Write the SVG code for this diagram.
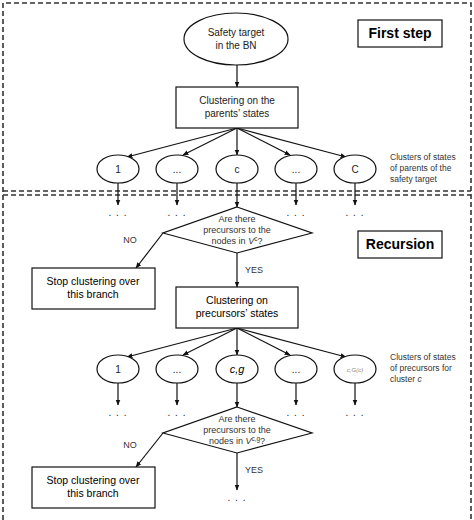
<svg xmlns="http://www.w3.org/2000/svg" width="474" height="520" viewBox="0 0 474 520">
<defs>
<marker id="ah" viewBox="0 0 10 10" refX="9" refY="5" markerWidth="6" markerHeight="6" orient="auto-start-reverse" markerUnits="userSpaceOnUse">
<path d="M0,1 L10,5 L0,9 z" fill="#111"/>
</marker>
<style>
.ln{stroke:#111;stroke-width:1.2;fill:none}
.sh{fill:#fff;stroke:#111;stroke-width:1.2}
.t{font-family:"Liberation Sans",Arial,sans-serif;font-size:10px;fill:#222;text-anchor:middle}
.d{fill:#000}
.b{font-weight:bold}
.s{font-family:"Liberation Sans",Arial,sans-serif;font-size:8.5px;fill:#333}
.q{font-family:"Liberation Sans",Arial,sans-serif;font-size:9px;fill:#333;text-anchor:middle}
.dash{stroke:#333;stroke-width:1.6;stroke-dasharray:5,3;fill:none}
.dots{font-family:"Liberation Sans",Arial,sans-serif;font-size:10px;fill:#222;text-anchor:middle;letter-spacing:1px}
</style>
</defs>
<rect width="474" height="520" fill="#fff"/>
<g id="frame">
<path class="dash" d="M3,520 V3 H471 V520"/>
<line class="dash" x1="3" y1="191" x2="471" y2="191"/>
<line class="dash" x1="3" y1="195" x2="471" y2="195"/>
</g>
<g id="connectors">
<line class="ln" x1="237" y1="65" x2="237" y2="87" marker-end="url(#ah)"/>
<line class="ln" x1="237" y1="128" x2="127" y2="157" marker-end="url(#ah)"/>
<line class="ln" x1="237" y1="128" x2="183" y2="155" marker-end="url(#ah)"/>
<line class="ln" x1="237" y1="128" x2="237" y2="155" marker-end="url(#ah)"/>
<line class="ln" x1="237" y1="128" x2="290" y2="155" marker-end="url(#ah)"/>
<line class="ln" x1="237" y1="128" x2="346" y2="157" marker-end="url(#ah)"/>
<line class="ln" x1="118" y1="183" x2="118" y2="205" marker-end="url(#ah)"/>
<line class="ln" x1="177" y1="183" x2="177" y2="205" marker-end="url(#ah)"/>
<line class="ln" x1="237" y1="183" x2="237" y2="207" marker-end="url(#ah)"/>
<line class="ln" x1="296" y1="183" x2="296" y2="205" marker-end="url(#ah)"/>
<line class="ln" x1="355" y1="183" x2="355" y2="205" marker-end="url(#ah)"/>
<line class="ln" x1="163" y1="233" x2="136" y2="268" marker-end="url(#ah)"/>
<line class="ln" x1="237" y1="253" x2="237" y2="287" marker-end="url(#ah)"/>
<line class="ln" x1="237" y1="328" x2="127" y2="357" marker-end="url(#ah)"/>
<line class="ln" x1="237" y1="328" x2="183" y2="355" marker-end="url(#ah)"/>
<line class="ln" x1="237" y1="328" x2="237" y2="355" marker-end="url(#ah)"/>
<line class="ln" x1="237" y1="328" x2="290" y2="355" marker-end="url(#ah)"/>
<line class="ln" x1="237" y1="328" x2="346" y2="357" marker-end="url(#ah)"/>
<line class="ln" x1="118" y1="383" x2="118" y2="405" marker-end="url(#ah)"/>
<line class="ln" x1="177" y1="383" x2="177" y2="405" marker-end="url(#ah)"/>
<line class="ln" x1="237" y1="383" x2="237" y2="407" marker-end="url(#ah)"/>
<line class="ln" x1="296" y1="383" x2="296" y2="405" marker-end="url(#ah)"/>
<line class="ln" x1="355" y1="383" x2="355" y2="405" marker-end="url(#ah)"/>
<line class="ln" x1="163" y1="433" x2="136" y2="467" marker-end="url(#ah)"/>
<line class="ln" x1="237" y1="453" x2="237" y2="490" marker-end="url(#ah)"/>
<text class="q" x="130" y="243">NO</text>
<text class="q" x="254" y="273">YES</text>
<text class="q" x="130" y="448">NO</text>
<text class="q" x="254" y="473">YES</text>
</g>
<g id="target">
<ellipse class="sh" cx="236" cy="39" rx="52" ry="26"/>
<text class="t" x="236" y="36">Safety target</text>
<text class="t" x="236" y="49">in the BN</text>
</g>
<g id="firststep">
<rect class="sh" x="358" y="20" width="84" height="27"/>
<text class="t b d" x="400" y="38" style="font-size:14px">First step</text>
</g>
<g id="cluster1">
<rect class="sh" x="176" y="87" width="122" height="41"/>
<text class="t" x="237" y="104">Clustering on the</text>
<text class="t" x="237" y="117">parents’ states</text>
</g>
<g id="row1">
<ellipse class="sh" cx="118" cy="169" rx="21" ry="14"/>
<text class="t" x="118" y="173">1</text>
<ellipse class="sh" cx="177" cy="169" rx="21" ry="14"/>
<text class="t" x="177" y="173">...</text>
<ellipse class="sh" cx="237" cy="169" rx="21" ry="14"/>
<text class="t" x="237" y="173">c</text>
<ellipse class="sh" cx="296" cy="169" rx="21" ry="14"/>
<text class="t" x="296" y="173">...</text>
<ellipse class="sh" cx="355" cy="169" rx="21" ry="14"/>
<text class="t" x="355" y="173">C</text>
<text class="s" x="390" y="160">Clusters of states</text>
<text class="s" x="390" y="171">of parents of the</text>
<text class="s" x="390" y="182">safety target</text>
</g>
<g id="dots1">
<text class="dots" x="118" y="216">. . .</text>
<text class="dots" x="177" y="216">. . .</text>
<text class="dots" x="296" y="216">. . .</text>
<text class="dots" x="355" y="216">. . .</text>
</g>
<g id="decision1">
<polygon class="sh" points="237,207 312,233 237,253 163,233"/>
<text class="q" x="237" y="222">Are there</text>
<text class="q" x="237" y="233">precursors to the</text>
<text class="q" x="237" y="244">nodes in <tspan font-style="italic">V</tspan><tspan font-size="6.5" dy="-3">c</tspan><tspan dy="3">?</tspan></text>
</g>
<g id="stop1">
<rect class="sh" x="32" y="268" width="123" height="41"/>
<text class="t d" x="93" y="285" style="font-size:10.5px">Stop clustering over</text>
<text class="t d" x="93" y="298" style="font-size:10.5px">this branch</text>
</g>
<g id="recursion">
<rect class="sh" x="358" y="231" width="84" height="27"/>
<text class="t b d" x="400" y="249" style="font-size:14px">Recursion</text>
</g>
<g id="cluster2">
<rect class="sh" x="176" y="287" width="122" height="41"/>
<text class="t d" x="237" y="304" style="font-size:10.5px">Clustering on</text>
<text class="t d" x="237" y="317" style="font-size:10.5px">precursors’ states</text>
</g>
<g id="row2">
<ellipse class="sh" cx="118" cy="369" rx="21" ry="14"/>
<text class="t" x="118" y="373">1</text>
<ellipse class="sh" cx="177" cy="369" rx="21" ry="14"/>
<text class="t" x="177" y="373">...</text>
<ellipse class="sh" cx="237" cy="369" rx="21" ry="14"/>
<text class="t d" x="237" y="373" font-style="italic" style="font-size:11px">c,g</text>
<ellipse class="sh" cx="296" cy="369" rx="21" ry="14"/>
<text class="t" x="296" y="373">...</text>
<ellipse class="sh" cx="355" cy="369" rx="21" ry="14"/>
<text class="t" x="355" y="372" style="font-size:6px;fill:#888" font-style="italic">c,G(c)</text>
<text class="s" x="390" y="360">Clusters of states</text>
<text class="s" x="390" y="371">of precursors for</text>
<text class="s" x="390" y="382">cluster <tspan font-style="italic">c</tspan></text>
</g>
<g id="dots2">
<text class="dots" x="118" y="416">. . .</text>
<text class="dots" x="177" y="416">. . .</text>
<text class="dots" x="296" y="416">. . .</text>
<text class="dots" x="355" y="416">. . .</text>
<text class="dots" x="237" y="501">. . .</text>
</g>
<g id="decision2">
<polygon class="sh" points="237,407 312,433 237,453 163,433"/>
<text class="q" x="237" y="422">Are there</text>
<text class="q" x="237" y="433">precursors to the</text>
<text class="q" x="237" y="444">nodes in <tspan font-style="italic">V</tspan><tspan font-size="6.5" dy="-3">c,g</tspan><tspan dy="3">?</tspan></text>
</g>
<g id="stop2">
<rect class="sh" x="32" y="467" width="123" height="41"/>
<text class="t d" x="93" y="484" style="font-size:10.5px">Stop clustering over</text>
<text class="t d" x="93" y="497" style="font-size:10.5px">this branch</text>
</g>
</svg>
